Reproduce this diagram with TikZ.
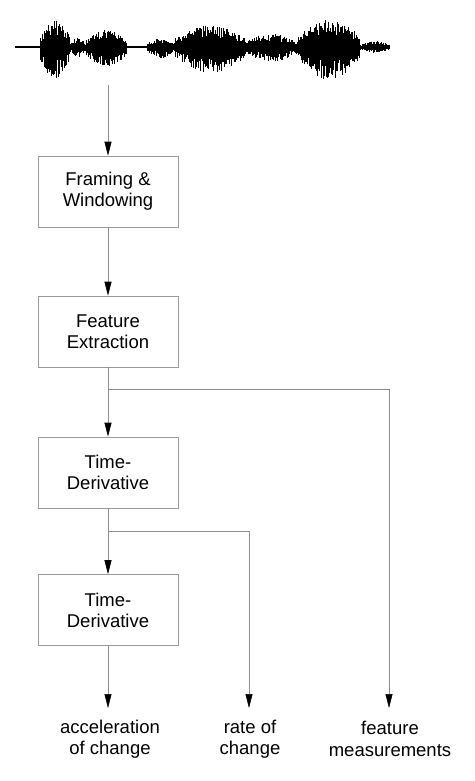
\documentclass[tikz,border=0pt]{standalone}
\usepackage{fontspec}
\setmainfont{Liberation Sans}
\usetikzlibrary{arrows.meta}
\begin{document}
\begin{tikzpicture}[x=1pt,y=-1pt,
  box/.style={draw=black!40, line width=0.6pt, minimum width=140pt, minimum height=71pt, align=center, inner sep=0pt, font=\fontsize{18.5}{21}\selectfont},
  lbl/.style={align=center, inner sep=0pt, font=\fontsize{18.5}{21.5}\selectfont},
  conn/.style={draw=black!45, line width=0.6pt, -{Triangle[length=14pt,width=7pt,color=black]}},
  wave/.style={line width=0.9pt, black}]
\useasboundingbox (0,0) rectangle (474,781);
% waveform
\draw[line width=1.4pt] (15,47) -- (390,47);
\pgfmathsetseed{12}
\foreach \a/\b/\u/\d in {40/70/27/32, 70/86/9/10, 86/127/17/20, 147/175/9/11, 175/245/22/26, 245/298/13/15, 298/360/27/33, 360/390/6/6} {
  \pgfmathsetmacro\aa{\a+0.7}
  \foreach \x in {\a,\aa,...,\b} {
    \pgfmathsetmacro\s{sin(180*(\x-\a)/(\b-\a))}
    \pgfmathsetmacro\up{\u*(0.45+0.55*rnd)*(0.4+0.6*\s)}
    \pgfmathsetmacro\dn{\d*(0.4+0.6*rnd)*(0.4+0.6*\s)}
    \draw[wave] (\x,47-\up) -- (\x,47+\dn);
  }
}
\coordinate (w) at (108,85);
% boxes
\node[box] (b1) at (108,191.5) {Framing \&\\Windowing};
\node[box] (b2) at (108,331.5) {Feature\\Extraction};
\node[box] (b3) at (108,472.5) {Time-\\Derivative};
\node[box] (b4) at (108,610) {Time-\\Derivative};
% ends
\coordinate (e1) at (108,708);
\coordinate (e2) at (249,708);
\coordinate (e3) at (389,708);
\coordinate (br1) at (108,389);
\coordinate (br2) at (108,531);
\node[lbl] (l1) at (110,739) {acceleration\\of change};
\node[lbl] (l2) at (250,739) {rate of\\change};
\node[lbl] (l3) at (390,739) {feature\\measurements};
% connectors
\draw[conn] (w) -- (b1);
\draw[conn] (b1) -- (b2);
\draw[conn] (b2) -- (b3);
\draw[conn] (b3) -- (b4);
\draw[conn] (b4) -- (e1);
\draw[conn] (br1) -| (e3);
\draw[conn] (br2) -| (e2);
\end{tikzpicture}
\end{document}
